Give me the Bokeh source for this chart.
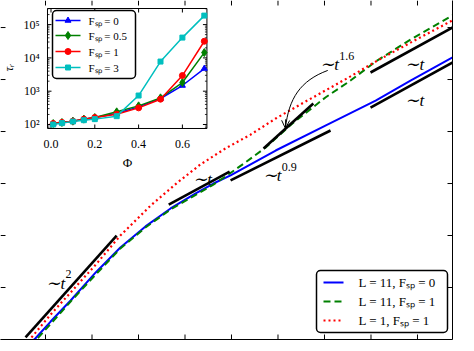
import numpy as np
from bokeh.plotting import figure
from bokeh.models import Range1d, FixedTicker, Arrow, OpenHead, Quad
from bokeh.core.properties import value
from bokeh.embed import file_html
from bokeh.resources import INLINE

FONT = "Liberation Serif"
SERIF = value(FONT)

# ---------------- main panel (log10 t , log10 MSD) ----------------
blue_logt = [-0.39, -0.22, 0.11, 0.54, 1.08, 1.61, 2.15, 2.69, 3.23, 3.61, 3.98, 4.95, 6.02, 7.10, 7.85, 8.80]
blue_logm = [-0.23, 0.04, 0.69, 1.50, 2.58, 3.54, 4.35, 5.04, 5.62, 6.00, 6.31, 7.27, 8.23, 9.19, 9.96, 10.90]

green_logt = [-0.34, -0.17, 0.54, 1.08, 1.61, 2.15, 2.69, 3.61, 3.87, 4.30, 4.73, 5.31, 6.02, 6.56, 7.10, 7.85, 8.80]
green_logm = [-0.23, 0.04, 1.46, 2.50, 3.50, 4.31, 5.00, 5.96, 6.27, 6.81, 7.38, 8.31, 9.31, 9.96, 10.69, 11.54, 12.51]

red_logt = [-0.43, -0.32, 0.11, 0.54, 1.08, 1.61, 2.26, 2.84, 3.33, 3.87, 4.41, 4.95, 5.48, 6.02, 6.56, 7.10, 7.85, 8.80]
red_logm = [-0.23, 0.04, 0.96, 1.81, 2.88, 4.00, 5.15, 6.04, 6.73, 7.35, 7.88, 8.50, 9.04, 9.58, 10.12, 10.69, 11.42, 12.32]

main_labels = ["L = 11, Fₛₚ = 0", "L = 11, Fₛₚ = 1", "L = 1,  Fₛₚ = 1"]

# frame extent and tick positions of the main panel (decades)
T_MIN, T_MAX = -0.968, 8.753
M_MIN, M_MAX = 0.0, 13.04
main_xticks = [0, 1, 2, 3, 4, 5, 6, 7, 8]
main_yticks = [0, 2, 4, 6, 8, 10, 12]

# power-law guide segments
ref_t0 = [-0.43, 2.65, 3.98, 4.69, 6.99, 6.99]
ref_t1 = [1.53, 3.96, 6.13, 5.76, 8.80, 8.80]
ref_m0 = [0.08, 5.19, 6.12, 7.35, 10.27, 8.92]
ref_m1 = [4.00, 6.46, 8.04, 9.08, 12.05, 10.70]
ref_base = ["∼t", "∼t", "∼t", "∼t", "∼t", "∼t"]
ref_exp = ["2", "", "0.9", "1.6", "", ""]
ref_lab_t = [0.02, 3.18, 4.67, 5.91, 7.74, 7.74]
ref_lab_m = [2.05, 6.04, 6.19, 10.46, 10.46, 9.08]

# curved arrow (bezier) pointing to the t^1.6 guide
arrow_p0 = (6.07, 10.35)
arrow_c0 = (5.48, 9.96)
arrow_c1 = (5.23, 9.27)
arrow_p1 = (5.16, 8.12)

# ---------------- inset (Phi , tau_r) ----------------
phi = [0.01, 0.05, 0.1, 0.15, 0.2, 0.3, 0.4, 0.5, 0.6, 0.7]
tau_fsp0 = [107, 115, 126, 145, 162, 214, 339, 603, 1480, 4790]
tau_fsp05 = [107, 115, 126, 145, 162, 240, 363, 631, 1820, 14450]
tau_fsp1 = [107, 115, 126, 145, 162, 204, 316, 575, 2950, 31600]
tau_fsp3 = [100, 110, 123, 135, 145, 178, 741, 7760, 40700, 186000]
inset_labels = ["Fₛₚ = 0", "Fₛₚ = 0.5", "Fₛₚ = 1", "Fₛₚ = 3"]
inset_xticks = [0.0, 0.2, 0.4, 0.6]
inset_xtick_labels = ["0.0", "0.2", "0.4", "0.6"]
inset_ydecades = [2, 3, 4, 5]
inset_ytick_labels = ["10²", "10³", "10⁴", "10⁵"]

# inset box in inset units
IN_L, IN_R = -0.016, 0.712
IN_B, IN_T = 1.88, 5.483

# legend layout (pixel coordinates inside the frame, y downward)
MAIN_LEG_BOX = (316, 447, 270, 332)
MAIN_LEG_ROWS = [282, 301, 320]
MAIN_LEG_SAMPLE = (323, 343)
MAIN_LEG_TEXT_X = 358
INSET_LEG_BOX = (52, 135, 10, 78)
INSET_LEG_ROWS = [20, 35, 51, 67]
INSET_LEG_SAMPLE = (55, 80)
INSET_LEG_TEXT_X = 88

p = figure(width=474, height=351, output_backend="svg", toolbar_location=None,
           x_range=Range1d(T_MIN, T_MAX), y_range=Range1d(M_MIN, M_MAX),
           x_axis_location="below", y_axis_location="right",
           min_border_left=0, min_border_right=22, min_border_top=0, min_border_bottom=12)
p.extra_x_ranges = {"phi": Range1d(-0.2306, 1.8333), "pxx": Range1d(0, 452)}
p.extra_y_ranges = {"tau": Range1d(-4.4565, 5.7237), "pxy": Range1d(339, 0)}
p.grid.visible = False
p.outline_line_color = None
p.background_fill_color = "white"
p.border_fill_color = "white"
for ax in (p.below[0], p.right[0]):
    ax.ticker = FixedTicker(ticks=[])
    ax.major_tick_in = 0
    ax.major_tick_out = 0
    ax.minor_tick_in = 0
    ax.minor_tick_out = 0
    ax.major_label_standoff = 0
    ax.axis_line_color = "black"
    ax.axis_line_width = 1

# inward ticks on all four sides of the main frame
tlx, tly = 5 / 46.5, 5 / 26
mx = np.array(main_xticks, dtype=float)
my = np.array(main_yticks, dtype=float)
p.segment(mx, M_MIN, mx, M_MIN + tly, line_color="black", line_width=1)
p.segment(mx, M_MAX, mx, M_MAX - tly, line_color="black", line_width=1)
p.segment(T_MIN, my, T_MIN + tlx, my, line_color="black", line_width=1)
p.segment(T_MAX, my, T_MAX - tlx, my, line_color="black", line_width=1)

BLUE = dict(line_color="#0000ff", line_width=2)
GREEN = dict(line_color="#008000", line_width=2, line_dash="7 4")
RED = dict(line_color="#ff0000", line_width=2.2, line_dash="2 3")
p.line(blue_logt, blue_logm, **BLUE)
p.line(green_logt, green_logm, **GREEN)
p.line(red_logt, red_logm, **RED)

p.segment(ref_t0, ref_m0, ref_t1, ref_m1, line_color="black", line_width=2.6)
p.text(ref_lab_t, ref_lab_m, text=ref_base, text_font=SERIF, text_font_size="17px",
       text_font_style="italic", text_align="left", text_baseline="alphabetic", text_color="black",
       y_offset=-3)
p.text(ref_lab_t, ref_lab_m, text=ref_exp, text_font=SERIF, text_font_size="12px",
       text_align="left", text_baseline="alphabetic", text_color="black",
       x_offset=19, y_offset=-12)

p.bezier(x0=[arrow_p0[0]], y0=[arrow_p0[1]], x1=[arrow_p1[0]], y1=[arrow_p1[1]],
         cx0=[arrow_c0[0]], cy0=[arrow_c0[1]], cx1=[arrow_c1[0]], cy1=[arrow_c1[1]],
         line_color="black", line_width=1)
p.add_layout(Arrow(end=OpenHead(size=8, line_width=1, line_color="black"),
                   x_start=arrow_p1[0] + 0.005, y_start=arrow_p1[1] + 0.35,
                   x_end=arrow_p1[0], y_end=arrow_p1[1], line_width=1, line_color="black"))

# ---------------- inset drawing ----------------
XR, YR = "phi", "tau"
p.quad(left=[IN_L], right=[IN_R], bottom=[IN_B], top=[IN_T], fill_color="white",
       line_color="black", line_width=1, x_range_name=XR, y_range_name=YR)

dx_major, dy_major = 4 / 219, 4 / 33.3
dx_minor = 2 / 219
xt = np.array(inset_xticks)
p.segment(xt, IN_B, xt, IN_B + dy_major, line_color="black", line_width=1, x_range_name=XR, y_range_name=YR)
p.segment(xt, IN_T, xt, IN_T - dy_major, line_color="black", line_width=1, x_range_name=XR, y_range_name=YR)
yt = np.array(inset_ydecades, dtype=float)
p.segment(IN_L, yt, IN_L + dx_major, yt, line_color="black", line_width=1, x_range_name=XR, y_range_name=YR)
p.segment(IN_R, yt, IN_R - dx_major, yt, line_color="black", line_width=1, x_range_name=XR, y_range_name=YR)
minor = np.array([np.log10(k * 10.0 ** d) for d in range(1, 6) for k in range(2, 10)])
minor = minor[(minor > IN_B) & (minor < IN_T)]
p.segment(IN_L, minor, IN_L + dx_minor, minor, line_color="black", line_width=0.8, x_range_name=XR, y_range_name=YR)
p.segment(IN_R, minor, IN_R - dx_minor, minor, line_color="black", line_width=0.8, x_range_name=XR, y_range_name=YR)

p.text(xt, [1.52] * len(xt), text=inset_xtick_labels, text_font=SERIF, text_font_size="12px",
       text_align="center", text_baseline="top", text_color="black", x_range_name=XR, y_range_name=YR)
p.text([-0.052] * len(yt), yt, text=inset_ytick_labels, text_font=SERIF, text_font_size="12px",
       text_align="right", text_baseline="middle", text_color="black", x_range_name=XR, y_range_name=YR)
p.text([0.349], [0.86], text=["Φ"], text_font=SERIF, text_font_size="13px",
       text_align="center", text_baseline="middle", text_color="black", x_range_name=XR, y_range_name=YR)
p.text([-0.194], [3.71], text=["τᵣ"], text_font=SERIF, text_font_size="13px", text_font_style="italic",
       angle=np.pi / 2, text_align="center", text_baseline="middle", text_color="black",
       x_range_name=XR, y_range_name=YR)

inset_series = [(tau_fsp0, "#0000ff", "triangle", 6),
                (tau_fsp05, "#008000", "diamond", 8),
                (tau_fsp1, "#ff0000", "circle", 6),
                (tau_fsp3, "#00bfbf", "square", 5)]
for tau, col, mk, sz in inset_series:
    lt = np.log10(tau)
    p.line(phi, lt, line_color=col, line_width=1.5, x_range_name=XR, y_range_name=YR)
    p.scatter(phi, lt, marker=mk, size=sz, fill_color=col, line_color=col,
              x_range_name=XR, y_range_name=YR)

# ---------------- legends (pixel coordinates) ----------------
PX = dict(x_range_name="pxx", y_range_name="pxy")
radius = {"border_radius": 4} if "border_radius" in Quad.properties() else {}


def legend_box(box):
    l, r, t, b = box
    p.quad(left=[l], right=[r], top=[t], bottom=[b], fill_color="white", fill_alpha=1,
           line_color="black", line_width=1.5, **radius, **PX)


legend_box(INSET_LEG_BOX)
for (tau, col, mk, sz), yrow in zip(inset_series, INSET_LEG_ROWS):
    p.segment([INSET_LEG_SAMPLE[0]], [yrow], [INSET_LEG_SAMPLE[1]], [yrow],
              line_color=col, line_width=1.5, **PX)
    p.scatter([(INSET_LEG_SAMPLE[0] + INSET_LEG_SAMPLE[1]) / 2], [yrow], marker=mk, size=sz,
              fill_color=col, line_color=col, **PX)
p.text([INSET_LEG_TEXT_X] * 4, INSET_LEG_ROWS, text=inset_labels, text_font=SERIF,
       text_font_size="11px", text_align="left", text_baseline="middle", text_color="black", **PX)

legend_box(MAIN_LEG_BOX)
for style, yrow in zip([BLUE, GREEN, RED], MAIN_LEG_ROWS):
    p.segment([MAIN_LEG_SAMPLE[0]], [yrow], [MAIN_LEG_SAMPLE[1]], [yrow], **style, **PX)
p.text([MAIN_LEG_TEXT_X] * 3, MAIN_LEG_ROWS, text=main_labels, text_font=SERIF,
       text_font_size="13px", text_align="left", text_baseline="middle", text_color="black", **PX)

open("out.html", "w").write(file_html(p, INLINE))
